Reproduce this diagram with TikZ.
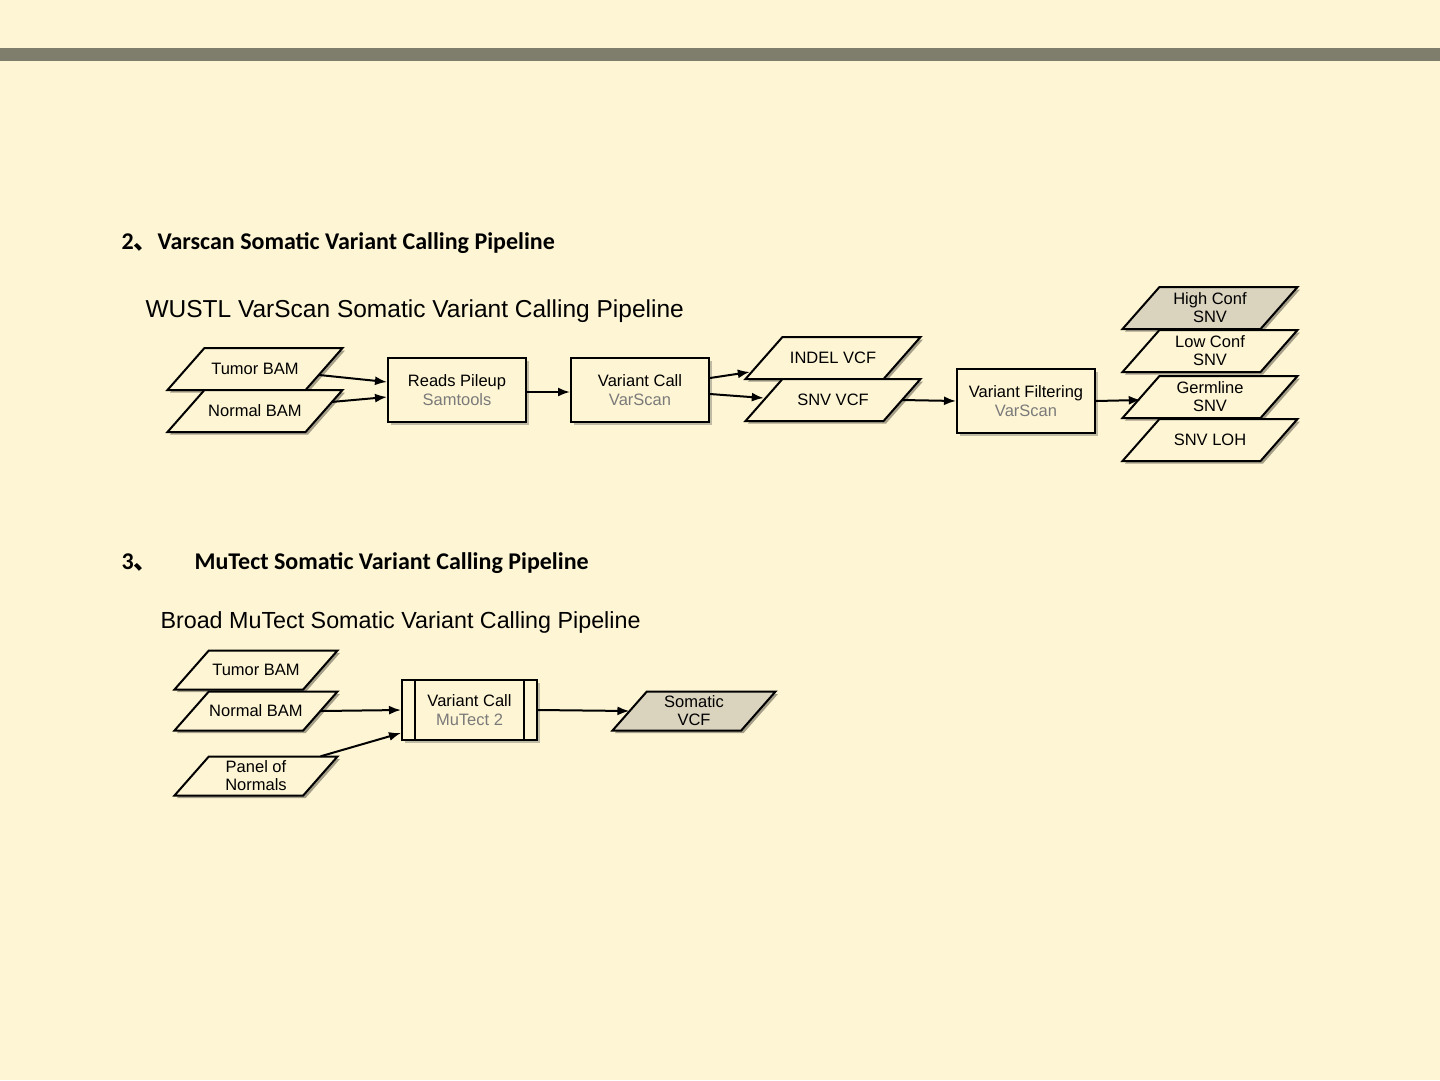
\documentclass[tikz,border=0pt]{standalone}
\usepackage{fontspec}
\setmainfont{Liberation Sans}
\newfontfamily\hdr{Carlito}
\newfontfamily\cjk{Noto Sans CJK SC}
\usetikzlibrary{arrows.meta,shadows}
\definecolor{bg}{HTML}{FEF5D4}
\definecolor{bar}{HTML}{7F7D6C}
\definecolor{outg}{HTML}{DAD3BE}
\definecolor{sub}{HTML}{7A7A7A}
\newcommand\pgm[7]{%
  \pgfmathsetmacro\dd{#5*0.88}%
  \fill[black,opacity=0.35] ({#2-#4/2+2.5},{#3+#5/2+2.5}) -- ({#2+#4/2-\dd+2.5},{#3+#5/2+2.5}) -- ({#2+#4/2+2.5},{#3-#5/2+2.5}) -- ({#2-#4/2+\dd+2.5},{#3-#5/2+2.5}) -- cycle;
  \filldraw[fill=#6,line width=2pt,line join=miter] ({#2-#4/2},{#3+#5/2}) -- ({#2+#4/2-\dd},{#3+#5/2}) -- ({#2+#4/2},{#3-#5/2}) -- ({#2-#4/2+\dd},{#3-#5/2}) -- cycle;
  \node[align=center,font=\fontsize{16.5}{18}\selectfont,minimum width={#4-\dd},minimum height=#5,inner sep=0pt] (#1) at (#2,#3) {#7};}
\begin{document}
\begin{tikzpicture}[x=1pt,y=-1pt,
  sh/.style={drop shadow={opacity=0.35,shadow xshift=2.5pt,shadow yshift=-2.5pt,fill=black!70}},
  box/.style={rectangle,draw,line width=2pt,fill=bg,sh,minimum width=138pt,minimum height=64pt,
    align=center,font=\fontsize{16.5}{19}\selectfont},
  arr/.style={line width=2pt,-{Latex[length=12pt,width=9pt]}},
  ttl/.style={anchor=west,font=\fontsize{24.5}{26}\selectfont},
  hd/.style={anchor=west,font=\hdr\bfseries\fontsize{24}{26}\selectfont}]
\fill[bg] (0,0) rectangle (1440,1080);
\useasboundingbox (0,0) rectangle (1440,1080);
\fill[bar] (0,48) rectangle (1440,61);
% section 1
\node[hd] (h1) at (118,243) {2{\cjk 、}Varscan Somatic Variant Calling Pipeline};
\node[ttl] (t1) at (142,311) {WUSTL VarScan Somatic Variant Calling Pipeline};
\pgm{tb}{255}{369}{175}{42}{bg}{Tumor BAM}
\pgm{nb}{255}{411}{175}{42}{bg}{Normal BAM}
\node[box] (rp) at (457,390) {Reads Pileup\\\textcolor{sub}{Samtools}};
\node[box] (vc) at (640,390) {Variant Call\\\textcolor{sub}{VarScan}};
\pgm{iv}{833}{358}{175}{42}{bg}{INDEL VCF}
\pgm{sv}{833}{400}{175}{42}{bg}{SNV VCF}
\node[box] (vf) at (1026,401) {Variant Filtering\\\textcolor{sub}{VarScan}};
\pgm{hc}{1210}{308}{175}{42}{outg}{High Conf\\SNV}
\pgm{lc}{1210}{351}{175}{42}{bg}{Low Conf\\SNV}
\pgm{gs}{1210}{397}{175}{42}{bg}{Germline\\SNV}
\pgm{sl}{1210}{440}{175}{42}{bg}{SNV LOH}
\draw[arr] ([xshift=-5pt,yshift=-6pt]tb.east) -- ([yshift=8pt]rp.west);
\draw[arr] ([xshift=7pt,yshift=9pt]nb.east) -- ([yshift=-7pt]rp.west);
\draw[arr] ([yshift=-2pt]rp.east) -- ([yshift=-2pt]vc.west);
\draw[arr] ([yshift=12pt]vc.east) -- ([xshift=-14pt,yshift=-14pt]iv.west);
\draw[arr] ([yshift=-4pt]vc.east) -- ([yshift=2pt]sv.west);
\draw[arr] (sv.east) -- (vf.west);
\draw[arr] (vf.east) -- ([yshift=-3pt]gs.west);
% section 2
\node[hd] (h2a) at (118,563) {3{\cjk 、}};
\node[hd] (h2) at (191,563) {MuTect Somatic Variant Calling Pipeline};
\node[ttl,font=\fontsize{23.3}{25}\selectfont] (t2) at (157,622) {Broad MuTect Somatic Variant Calling Pipeline};
\pgm{tb2}{256}{670}{163}{39}{bg}{Tumor BAM}
\pgm{nb2}{256}{711}{163}{39}{bg}{Normal BAM}
\pgm{pn}{256}{776}{163}{39}{bg}{Panel of\\Normals}
\node[box,minimum width=135pt,minimum height=60pt] (vc2) at (469.5,710) {Variant Call\\\textcolor{sub}{MuTect 2}};
\draw[line width=2pt] ([xshift=14pt]vc2.north west) -- ([xshift=14pt]vc2.south west);
\draw[line width=2pt] ([xshift=-14pt]vc2.north east) -- ([xshift=-14pt]vc2.south east);
\pgm{sv2}{694}{711}{163}{39}{outg}{Somatic\\VCF}
\draw[arr] (nb2.east) -- (vc2.west);
\draw[arr] (pn.north east) -- ([yshift=-23pt]vc2.west);
\draw[arr] (vc2.east) -- (sv2.west);
\end{tikzpicture}
\end{document}
